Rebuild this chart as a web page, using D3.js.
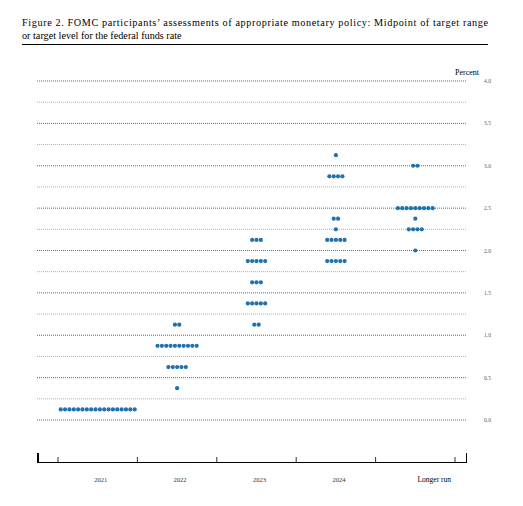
<!DOCTYPE html><html><head><meta charset="utf-8"><script src="https://cdn.jsdelivr.net/npm/d3@7"></script>
<style>body{margin:0;background:#fff}text{font-family:"Liberation Serif","Times New Roman",serif}</style></head><body>
<svg id="c" width="523" height="506"></svg>
<script>
const categories=["2021","2022","2023","2024","Longer run"];
const rates=[[0.125],[0.375,0.625,0.875,1.125],[1.125,1.375,1.625,1.875,2.125],[1.875,2.125,2.25,2.375,2.875,3.125],[2.0,2.25,2.375,2.5,3.0]];
const counts=[[18],[1,5,10,2],[2,5,3,5,3],[5,5,1,2,4,1],[1,4,1,9,2]];
const yTicks=[0,0.5,1,1.5,2,2.5,3,3.5,4];
const svg=d3.select("#c");
svg.append("text").attr("x",22).attr("y",26).attr("font-size",10.2).attr("textLength",466).text("Figure 2.  FOMC participants’ assessments of appropriate monetary policy:  Midpoint of target range");
svg.append("text").attr("x",22).attr("y",39).attr("font-size",10.2).text("or target level for the federal funds rate");
svg.append("line").attr("x1",22).attr("x2",488).attr("y1",44.5).attr("y2",44.5).attr("stroke","#000");
const y=d3.scaleLinear().domain([0,4]).range([420,81]);
const x=d3.scaleBand().domain(categories).range([58,455]);
d3.range(0,4.01,0.25).forEach(v=>{
 const major=Math.abs(v%0.5)<1e-9;
 svg.append("line").attr("x1",37).attr("x2",467).attr("y1",y(v)).attr("y2",y(v))
  .attr("stroke",major?"#444":"#999").attr("stroke-width",0.8).attr("stroke-dasharray","1,1");
});
yTicks.forEach(v=>svg.append("text").attr("x",484).attr("y",y(v)+2).attr("font-size",5.5).attr("fill","#555").text(v.toFixed(1)));
svg.append("text").attr("x",479).attr("y",75).attr("font-size",8).attr("text-anchor","end").text("Percent");
rates.forEach((rs,i)=>{
 const cx=x(categories[i])+x.bandwidth()/2;
 rs.forEach((r,j)=>{
  const n=counts[i][j];
  for(let k=0;k<n;k++){
   svg.append("circle").attr("cx",cx+(k-(n-1)/2)*4.35).attr("cy",y(r)).attr("r",2.1).attr("fill","#1f72b0");
  }
 });
});
const ax=svg.append("g").attr("transform","translate(0,462)");
ax.append("line").attr("x1",37).attr("x2",467).attr("y1",0.5).attr("y2",0.5).attr("stroke","#000");
ax.append("line").attr("x1",38).attr("x2",38).attr("y1",-9).attr("y2",0.5).attr("stroke","#000").attr("stroke-width",2);
ax.append("line").attr("x1",466.5).attr("x2",466.5).attr("y1",-9).attr("y2",0.5).attr("stroke","#000");
categories.concat(["end"]).forEach(c=>{
 const tx=c==="end"?455:x(c);
 ax.append("line").attr("x1",tx).attr("x2",tx).attr("y1",-5).attr("y2",0).attr("stroke","#333");
});
categories.forEach((c,i)=>ax.append("text").attr("x",x(c)+x.bandwidth()/2+(i===4?19:3)).attr("y",20).attr("text-anchor","middle").attr("font-size",i===4?7.5:6.5).attr("fill",i===4?"#000":"#333").text(c));
</script></body></html>
